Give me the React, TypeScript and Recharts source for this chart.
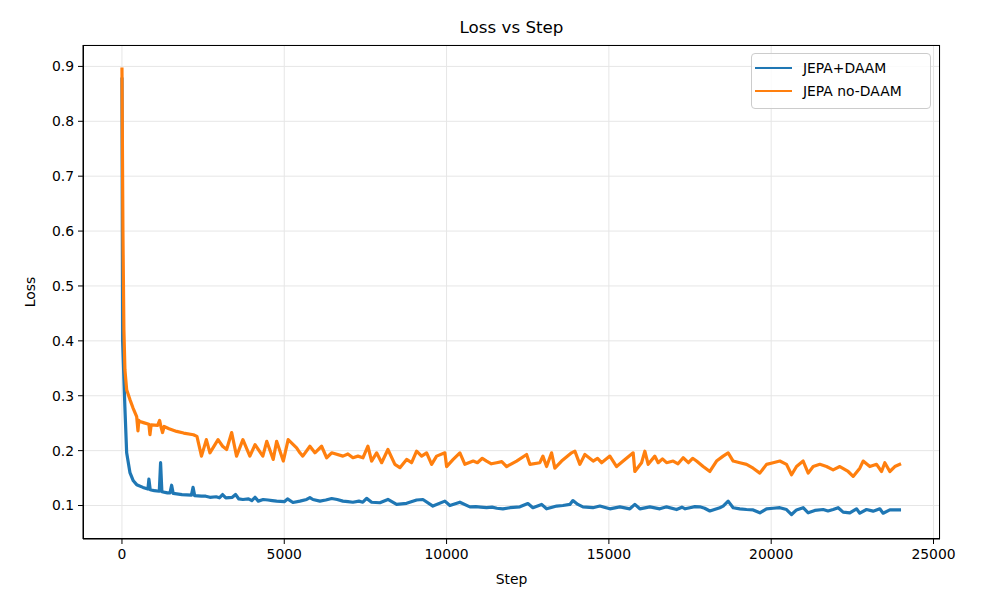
import { LineChart, Line, XAxis, YAxis, CartesianGrid } from 'recharts';

// [step, loss]
// JEPA+DAAM (blue)
const daamPoints: [number, number][] = [
  [0, 0.88], [20, 0.4], [90, 0.28], [145, 0.196], [246, 0.16], [350, 0.145], [453, 0.138],
  [647, 0.133], [800, 0.13], [830, 0.148], [870, 0.129], [1000, 0.127], [1150, 0.126],
  [1190, 0.178], [1230, 0.125], [1400, 0.123], [1480, 0.123], [1530, 0.137], [1580, 0.122],
  [1850, 0.12], [2140, 0.119], [2190, 0.133], [2240, 0.118], [2450, 0.117], [2580, 0.117],
  [2710, 0.115], [2900, 0.116], [3000, 0.114], [3100, 0.12], [3200, 0.114], [3400, 0.115],
  [3500, 0.12], [3600, 0.112], [3726, 0.111], [3900, 0.112], [4000, 0.109], [4100, 0.115],
  [4200, 0.108], [4350, 0.111], [4500, 0.11], [4630, 0.109], [4765, 0.108], [5000, 0.107],
  [5100, 0.112], [5267, 0.1055], [5482, 0.108], [5689, 0.111], [5790, 0.1145], [5883, 0.111],
  [6098, 0.108], [6280, 0.11], [6460, 0.1127], [6630, 0.111], [6807, 0.108], [6960, 0.107],
  [7115, 0.106], [7300, 0.108], [7420, 0.106], [7537, 0.113], [7691, 0.106], [7946, 0.105],
  [8193, 0.111], [8461, 0.102], [8769, 0.104], [9077, 0.11], [9271, 0.111], [9579, 0.099],
  [9948, 0.108], [10102, 0.1], [10410, 0.106], [10718, 0.0976], [10900, 0.098], [11050, 0.097],
  [11233, 0.096], [11400, 0.097], [11550, 0.095], [11735, 0.094], [11950, 0.096], [12258, 0.0976],
  [12505, 0.1036], [12659, 0.096], [12927, 0.102], [13081, 0.094], [13389, 0.099], [13583, 0.1],
  [13798, 0.102], [13891, 0.109], [14045, 0.102], [14199, 0.0976], [14507, 0.096], [14722, 0.099],
  [15030, 0.094], [15338, 0.0976], [15646, 0.094], [15800, 0.102], [15954, 0.094], [16262, 0.0976],
  [16570, 0.094], [16777, 0.0976], [17085, 0.0927], [17250, 0.097], [17350, 0.094], [17494, 0.096],
  [17650, 0.098], [17802, 0.0976], [17950, 0.095], [18110, 0.09], [18418, 0.096], [18520, 0.099],
  [18674, 0.108], [18828, 0.096], [19034, 0.094], [19240, 0.0927], [19444, 0.092], [19650, 0.0867],
  [19856, 0.094], [20060, 0.095], [20266, 0.096], [20472, 0.0927], [20627, 0.0836], [20780, 0.092],
  [20984, 0.096], [21140, 0.0867], [21344, 0.091], [21600, 0.0927], [21750, 0.09], [21908, 0.0927],
  [22062, 0.096], [22216, 0.088], [22422, 0.0867], [22628, 0.094], [22730, 0.086], [22936, 0.0927],
  [23140, 0.0897], [23346, 0.094], [23448, 0.086], [23654, 0.092], [24000, 0.092],
];

// JEPA no-DAAM (orange)
const noDaamPoints: [number, number][] = [
  [0, 0.898], [30, 0.6], [60, 0.42], [92, 0.347], [145, 0.311], [246, 0.293], [339, 0.278],
  [453, 0.262], [493, 0.236], [520, 0.255], [555, 0.253], [660, 0.251], [830, 0.248], [862, 0.229],
  [900, 0.247], [1100, 0.246], [1160, 0.255], [1200, 0.244], [1250, 0.233], [1300, 0.244],
  [1450, 0.24], [1685, 0.235], [1900, 0.232], [2200, 0.229], [2310, 0.226], [2450, 0.19],
  [2600, 0.22], [2710, 0.196], [2960, 0.22], [3100, 0.208], [3225, 0.202], [3380, 0.233],
  [3530, 0.19], [3726, 0.22], [3940, 0.19], [4100, 0.211], [4340, 0.19], [4460, 0.217],
  [4660, 0.184], [4765, 0.217], [4970, 0.181], [5120, 0.22], [5380, 0.205], [5482, 0.196],
  [5570, 0.19], [5790, 0.208], [5944, 0.196], [6150, 0.208], [6305, 0.187], [6460, 0.196],
  [6807, 0.19], [6960, 0.194], [7115, 0.187], [7270, 0.19], [7423, 0.187], [7577, 0.208],
  [7691, 0.181], [7845, 0.196], [8000, 0.178], [8193, 0.202], [8408, 0.175], [8562, 0.169],
  [8769, 0.184], [8923, 0.178], [9077, 0.199], [9231, 0.19], [9385, 0.196], [9539, 0.175],
  [9693, 0.19], [9948, 0.196], [10001, 0.171], [10204, 0.184], [10410, 0.196], [10564, 0.175],
  [10820, 0.181], [10950, 0.178], [11100, 0.186], [11233, 0.181], [11380, 0.176], [11541, 0.178],
  [11700, 0.18], [11849, 0.171], [12000, 0.176], [12157, 0.181], [12465, 0.193], [12566, 0.175],
  [12874, 0.178], [12967, 0.19], [13081, 0.171], [13235, 0.196], [13336, 0.168], [13543, 0.181],
  [13851, 0.196], [13952, 0.199], [14106, 0.175], [14260, 0.193], [14516, 0.181], [14650, 0.186],
  [14775, 0.178], [15030, 0.19], [15237, 0.171], [15440, 0.181], [15748, 0.196], [15800, 0.162],
  [16007, 0.178], [16108, 0.199], [16210, 0.175], [16416, 0.19], [16518, 0.178], [16650, 0.185],
  [16777, 0.178], [16980, 0.181], [17130, 0.176], [17288, 0.187], [17450, 0.178], [17580, 0.186],
  [17700, 0.181], [17904, 0.171], [18110, 0.162], [18316, 0.181], [18520, 0.19], [18674, 0.196],
  [18828, 0.181], [19034, 0.178], [19240, 0.175], [19444, 0.168], [19650, 0.159], [19856, 0.175],
  [20060, 0.178], [20266, 0.181], [20472, 0.175], [20627, 0.156], [20780, 0.171], [20984, 0.181],
  [21140, 0.159], [21293, 0.171], [21498, 0.175], [21704, 0.171], [21908, 0.165], [22114, 0.171],
  [22370, 0.162], [22524, 0.153], [22730, 0.168], [22832, 0.181], [23038, 0.171], [23246, 0.175],
  [23400, 0.162], [23500, 0.178], [23654, 0.162], [23808, 0.171], [24000, 0.176],
];

const xTicks = [0, 5000, 10000, 15000, 20000, 25000];
const yTicks = [0.1, 0.2, 0.3, 0.4, 0.5, 0.6, 0.7, 0.8, 0.9];

const daamData = daamPoints.map(([step, loss]) => ({ step, loss }));
const noDaamData = noDaamPoints.map(([step, loss]) => ({ step, loss }));

const FONT = '"DejaVu Sans", sans-serif';
const BLUE = '#1f77b4';
const ORANGE = '#ff7f0e';

export default function App() {
  return (
    <div style={{ position: 'absolute', left: 0, top: 0, width: 982, height: 613, background: '#fff', fontFamily: FONT }}>
      <LineChart width={982} height={613} margin={{ top: 45, right: 42, bottom: 0, left: 0 }}>
        <CartesianGrid stroke="#e6e6e6" strokeWidth={1} />
        <XAxis
          dataKey="step"
          type="number"
          domain={[-1200, 25200]}
          ticks={xTicks}
          allowDuplicatedCategory={false}
          height={74}
          tickSize={5}
          tickMargin={5}
          stroke="#000"
          tick={{ fill: '#000', fontSize: 13.9, fontFamily: FONT }}
        />
        <YAxis
          type="number"
          domain={[0.039, 0.939]}
          ticks={yTicks}
          width={83}
          tickSize={5}
          tickMargin={4}
          stroke="#000"
          tickFormatter={(v: number) => v.toFixed(1)}
          tick={{ fill: '#000', fontSize: 13.9, fontFamily: FONT }}
        />
        <Line data={daamData} dataKey="loss" stroke={BLUE} strokeWidth={3.2} strokeLinejoin="round" dot={false} isAnimationActive={false} />
        <Line data={noDaamData} dataKey="loss" stroke={ORANGE} strokeWidth={3.2} strokeLinejoin="round" dot={false} isAnimationActive={false} />
      </LineChart>

      {/* top/right spines */}
      <div style={{ position: 'absolute', left: 83, top: 45, width: 857, height: 494, border: '1px solid #000', boxSizing: 'border-box', pointerEvents: 'none' }} />

      <div style={{ position: 'absolute', left: 83, width: 857, top: 17, textAlign: 'center', fontSize: 16.7, lineHeight: '20px' }}>Loss vs Step</div>
      <div style={{ position: 'absolute', left: 83, width: 857, top: 570, textAlign: 'center', fontSize: 13.9, lineHeight: '18px' }}>Step</div>
      <div style={{ position: 'absolute', left: 30, top: 292, width: 0, height: 0 }}>
        <div style={{ position: 'absolute', transform: 'translate(-50%, -50%) rotate(-90deg)', fontSize: 13.9, lineHeight: '18px', whiteSpace: 'nowrap' }}>Loss</div>
      </div>

      <div style={{ position: 'absolute', left: 751, top: 53, width: 180, height: 56, border: '1px solid #ccc', borderRadius: 4, background: 'rgba(255,255,255,0.8)', boxSizing: 'border-box', fontSize: 13.9 }}>
        {[
          { name: 'JEPA+DAAM', color: BLUE },
          { name: 'JEPA no-DAAM', color: ORANGE },
        ].map((item, i) => (
          <div key={item.name} style={{ position: 'absolute', left: 3, top: 5 + i * 23, height: 18, display: 'flex', alignItems: 'center' }}>
            <div style={{ width: 37, height: 2.8, background: item.color, marginRight: 11 }} />
            <span style={{ lineHeight: '18px' }}>{item.name}</span>
          </div>
        ))}
      </div>
    </div>
  );
}
